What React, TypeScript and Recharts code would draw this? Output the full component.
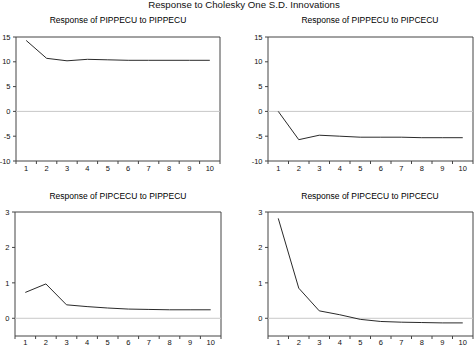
import React from "react";
import {
  LineChart,
  Line,
  XAxis,
  YAxis,
  ReferenceLine,
  ReferenceArea,
} from "recharts";

const periods = [1, 2, 3, 4, 5, 6, 7, 8, 9, 10];

// Response of PIPPECU to PIPPECU
const pippToPipp = [14.3, 10.7, 10.2, 10.5, 10.4, 10.3, 10.3, 10.3, 10.3, 10.3];
// Response of PIPPECU to PIPCECU
const pippToPipc = [0, -5.7, -4.8, -5.0, -5.2, -5.2, -5.2, -5.3, -5.3, -5.3];
// Response of PIPCECU to PIPPECU
const pipcToPipp = [0.73, 0.97, 0.38, 0.33, 0.29, 0.26, 0.25, 0.24, 0.24, 0.24];
// Response of PIPCECU to PIPCECU
const pipcToPipc = [2.82, 0.85, 0.21, 0.1, -0.03, -0.09, -0.11, -0.12, -0.13, -0.13];

const topTicks = [-10, -5, 0, 5, 10, 15];
const bottomTicks = [0, 1, 2, 3];
const xTicks = [0.5, 1, 1.5, 2, 2.5, 3, 3.5, 4, 4.5, 5, 5.5, 6, 6.5, 7, 7.5, 8, 8.5, 9, 9.5, 10, 10.5];

const FONT = "'Liberation Sans', Arial, sans-serif";

const toRows = (values: number[]) =>
  periods.map((p, i) => ({ period: p, value: values[i] }));

// integer ticks get a label, half ticks get the small tick mark between periods
function XTick(props: any) {
  const { x, y, payload, labelDy } = props;
  if (Number.isInteger(payload.value)) {
    return (
      <text x={x} y={y + labelDy} textAnchor="middle" fontSize={7.5} fill="#111" fontFamily={FONT}>
        {payload.value}
      </text>
    );
  }
  return <line x1={x} x2={x} y1={y} y2={y + 3} stroke="#444" />;
}

type PanelProps = {
  values: number[];
  domain: [number, number];
  ticks: number[];
  left: number;
  top: number;
  yWidth: number;
  margin: { top: number; right: number; bottom: number; left: number };
  xHeight: number;
  labelDy: number;
};

function Panel({ values, domain, ticks, left, top, yWidth, margin, xHeight, labelDy }: PanelProps) {
  return (
    <div style={{ position: "absolute", left, top }}>
      <LineChart width={237} height={173} data={toRows(values)} margin={margin}>
        <XAxis
          dataKey="period"
          type="number"
          domain={[0.5, 10.5]}
          ticks={xTicks}
          interval={0}
          height={xHeight}
          axisLine={false}
          tickLine={false}
          tickSize={0}
          tickMargin={0}
          tick={<XTick labelDy={labelDy} />}
        />
        <YAxis
          type="number"
          domain={domain}
          ticks={ticks}
          interval={0}
          width={yWidth}
          axisLine={false}
          tickSize={3}
          tickMargin={2.5}
          tickLine={{ stroke: "#444" }}
          tick={{ fontSize: 7.5, fill: "#111", fontFamily: FONT }}
        />
        <ReferenceLine y={0} stroke="#c8c8c8" strokeWidth={1} />
        <ReferenceArea
          x1={0.5}
          x2={10.5}
          y1={domain[0]}
          y2={domain[1]}
          fill="none"
          stroke="#444"
          strokeWidth={1}
        />
        <Line
          dataKey="value"
          type="linear"
          stroke="#2a2a2a"
          strokeWidth={1}
          dot={false}
          isAnimationActive={false}
        />
      </LineChart>
    </div>
  );
}

export default function App() {
  return (
    <div style={{ position: "absolute", left: 0, top: 0, width: 474, height: 346, background: "#fff", overflow: "hidden" }}>
      <Panel
        values={pippToPipp}
        domain={[-10, 15]}
        ticks={topTicks}
        left={0}
        top={0}
        yWidth={16}
        margin={{ top: 37, right: 17, bottom: 0, left: 0 }}
        xHeight={12}
        labelDy={10}
      />
      <Panel
        values={pippToPipc}
        domain={[-10, 15]}
        ticks={topTicks}
        left={237}
        top={0}
        yWidth={31}
        margin={{ top: 37, right: 1, bottom: 0, left: 0 }}
        xHeight={12}
        labelDy={10}
      />
      <Panel
        values={pipcToPipp}
        domain={[-0.5, 3]}
        ticks={bottomTicks}
        left={0}
        top={173}
        yWidth={15}
        margin={{ top: 39, right: 16, bottom: 0, left: 0 }}
        xHeight={10}
        labelDy={8.5}
      />
      <Panel
        values={pipcToPipc}
        domain={[-0.5, 3]}
        ticks={bottomTicks}
        left={237}
        top={173}
        yWidth={31}
        margin={{ top: 39, right: 1, bottom: 0, left: 0 }}
        xHeight={10}
        labelDy={8.5}
      />
      <svg
        width={474}
        height={346}
        style={{ position: "absolute", left: 0, top: 0, pointerEvents: "none" }}
        fontFamily={FONT}
      >
        <text x={244} y={7.5} textAnchor="middle" fontSize={9.7} fill="#111">
          Response to Cholesky One S.D. Innovations
        </text>
        <text x={118} y={23} textAnchor="middle" fontSize={8.5} fill="#000">
          Response of PIPPECU to PIPPECU
        </text>
        <text x={370} y={23} textAnchor="middle" fontSize={8.5} fill="#000">
          Response of PIPPECU to PIPCECU
        </text>
        <text x={118} y={199} textAnchor="middle" fontSize={8.5} fill="#000">
          Response of PIPCECU to PIPPECU
        </text>
        <text x={370} y={199} textAnchor="middle" fontSize={8.5} fill="#000">
          Response of PIPCECU to PIPCECU
        </text>
      </svg>
    </div>
  );
}
